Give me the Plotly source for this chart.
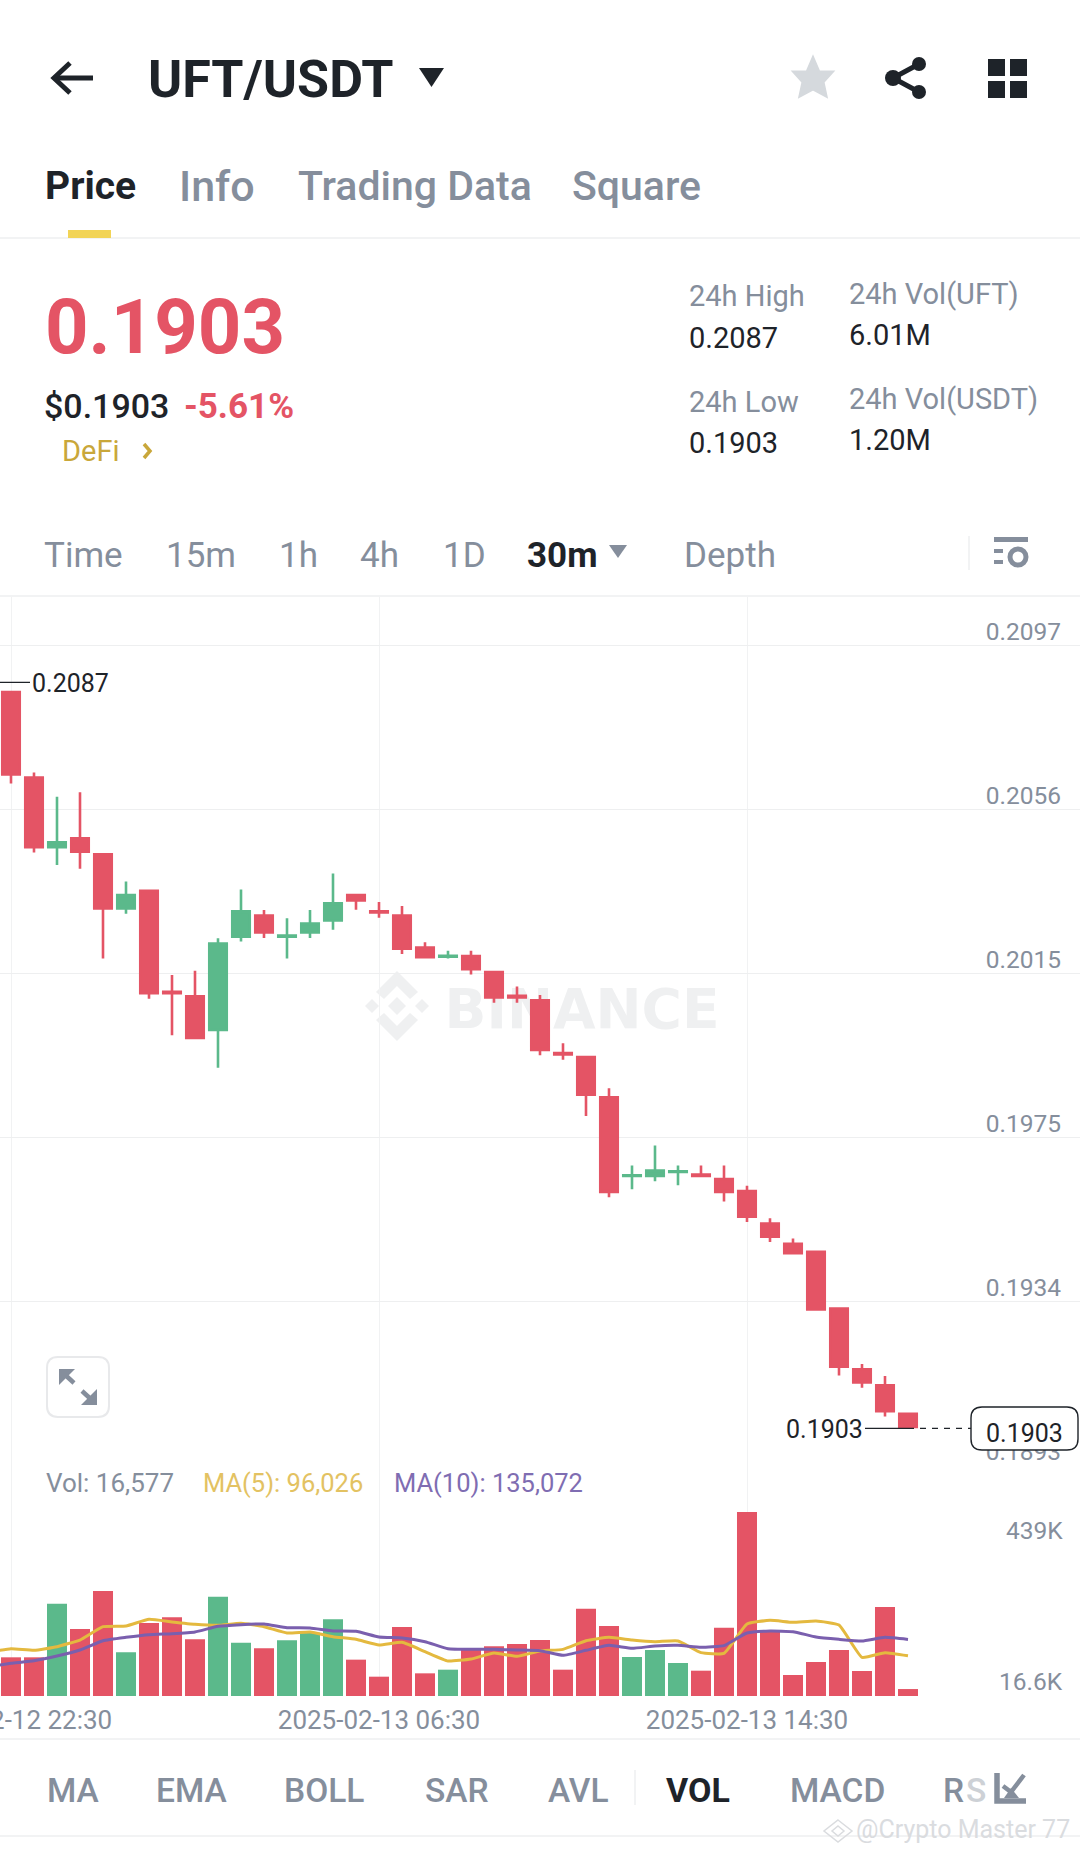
import pandas as pd
import plotly.graph_objects as go

# ---------- data ----------
opens  = [.20856,.20644,.20464,.20493,.20453,.20312,.20362,.20111,.20100,.20010,
          .20242,.20301,.20242,.20252,.20282,.20352,.20311,.20301,.20221,.20192,
          .20200,.20160,.20101,.20090,.19959,.19949,.19849,.19647,.19647,.19657,
          .19657,.19646,.19616,.19535,.19485,.19465,.19324,.19173,.19133,.19062]
highs  = [.20856,.20653,.20593,.20604,.20453,.20382,.20362,.20150,.20160,.20241,
          .20362,.20311,.20291,.20311,.20402,.20352,.20331,.20321,.20231,.20210,
          .20210,.20160,.20121,.20100,.19980,.19949,.19868,.19676,.19726,.19676,
          .19676,.19676,.19626,.19545,.19495,.19465,.19324,.19183,.19153,.19062]
lows   = [.20626,.20454,.20423,.20414,.20191,.20302,.20091,.20000,.19990,.19919,
          .20233,.20242,.20191,.20242,.20262,.20312,.20292,.20202,.20191,.20191,
          .20151,.20081,.20081,.19950,.19939,.19799,.19597,.19617,.19637,.19627,
          .19647,.19587,.19536,.19486,.19455,.19315,.19154,.19124,.19052,.19023]
closes = [.20645,.20464,.20483,.20453,.20312,.20352,.20101,.20101,.19990,.20231,
          .20311,.20252,.20251,.20281,.20331,.20332,.20302,.20212,.20191,.20201,
          .20161,.20091,.20091,.19960,.19949,.19849,.19607,.19655,.19667,.19665,
          .19647,.19607,.19546,.19496,.19455,.19315,.19173,.19134,.19062,.19023]
volumes = [92.3,92.3,220.3,159.9,250.5,104.2,174.2,187.7,135.2,237.0,
           127.2,113.7,132.8,151.1,182.9,86.7,46.1,164.6,54.1,62.8,
           112.1,118.5,124.1,133.6,62.8,208.4,167.0,93.0,109.8,78.7,
           60.4,163.0,439.0,157.5,50.1,81.1,109.8,59.6,212.3,16.577]
ma5 = [104.2,112.9,109.0,117.7,133.6,165.4,167.0,182.9,176.6,171.0,168.6,
       173.4,165.4,150.3,152.7,141.6,135.2,121.7,128.0,105.8,83.5,
       88.3,102.6,94.6,107.4,111.3,132.0,140.0,133.6,129.6,131.2,
       103.4,101.8,171.8,180.5,175.8,178.9,169.4,92.3,103.4,96.026]
ma10 = [70.0,77.9,84.3,95.4,109.8,132.0,140.0,146.3,148.7,152.7,166.2,
        170.2,171.8,163.0,162.2,155.1,154.3,140.8,138.4,129.6,112.9,
        111.3,111.3,109.8,108.2,97.0,109.0,120.9,113.7,119.3,120.9,
        116.1,120.1,150.3,155.1,153.5,140.8,135.2,131.2,140.0,135.072]
price_ticks = [0.2097,0.20562,0.20154,0.19746,0.19338,0.1893]
price_tick_labels = ["0.2097","0.2056","0.2015","0.1975","0.1934","0.1893"]
date_ticks = ["2025-02-12 22:30","2025-02-13 06:30","2025-02-13 14:30"]
high_mark = 0.20877
last_price = closes[-1]

times = pd.date_range("2025-02-12 22:30", periods=len(opens), freq="30min")
ma_times = pd.date_range("2025-02-12 22:00", periods=len(ma5), freq="30min")

W, H = 1080, 1851
RED, GREEN = "#E45465", "#5BB98B"
DARK, GREY, LINE = "#1E2329", "#858E9C", "#EEEFF0"
FONT = "Roboto"
TOP, MID, BOT = 597, 1465.7, 1696
PRICE_PER_PX = 2.486e-5
VOL_PER_PX = 2386
WICK = 2.6
def X(p): return p / W
def Y(p): return 1 - p / H

# the candle body outline adds half a wick width at each end: pull the drawn body in by as much
def inset(o, c):
    half = max(abs(c - o) - WICK * PRICE_PER_PX, 2e-6) / 2
    mid, sgn = (o + c) / 2, (1 if c > o else -1)
    return mid - sgn * half, mid + sgn * half
body = [inset(o, c) for o, c in zip(opens, closes)]

fig = go.Figure()
fig.add_trace(go.Candlestick(
    x=times, open=[b[0] for b in body], high=highs, low=lows, close=[b[1] for b in body], xaxis="x", yaxis="y",
    increasing=dict(line=dict(color=GREEN, width=WICK), fillcolor=GREEN),
    decreasing=dict(line=dict(color=RED, width=WICK), fillcolor=RED),
    whiskerwidth=0, showlegend=False, hoverinfo="skip"))
fig.add_trace(go.Bar(
    x=times, y=[v * 1000 for v in volumes], xaxis="x2", yaxis="y2",
    marker=dict(color=[GREEN if c > o else RED for o, c in zip(opens, closes)], line_width=0),
    showlegend=False, hoverinfo="skip"))
fig.add_trace(go.Scatter(x=ma_times, y=[v * 1000 for v in ma5], xaxis="x2", yaxis="y2", mode="lines",
    line=dict(color="#E4B93F", width=3, shape="spline", smoothing=0.4), showlegend=False, hoverinfo="skip"))
fig.add_trace(go.Scatter(x=ma_times, y=[v * 1000 for v in ma10], xaxis="x2", yaxis="y2", mode="lines",
    line=dict(color="#7A5FAE", width=3, shape="spline", smoothing=0.4), showlegend=False, hoverinfo="skip"))

ann = []
def txt(text, x, y, size, color=GREY, weight=400, anchor="left", family=FONT):
    ann.append(dict(text=text, x=X(x), y=Y(y), xref="paper", yref="paper", xanchor=anchor, yanchor="middle",
                    showarrow=False, borderpad=0, borderwidth=0,
                    font=dict(size=size, color=color, weight=weight, family=family)))

# header
txt("UFT/USDT", 148, 79, 52, DARK, 700)
txt("Price", 45, 186, 39, DARK, 700)
txt("Info", 179, 186, 43, GREY, 500)
txt("Trading Data", 298, 186, 41, GREY, 500)
txt("Square", 572, 186, 41, GREY, 500)
txt("0.1903", 45, 327, 76, RED, 700)
txt("$0.1903", 44, 406, 34, DARK, 500)
txt("-5.61%", 184, 406, 35, RED, 700)
txt("DeFi", 62, 451, 29, "#C9A73A")
txt("24h High", 689, 296, 29)
txt("0.2087", 689, 338, 29, DARK)
txt("24h Low", 689, 402, 29)
txt("0.1903", 689, 443, 29, DARK)
txt("24h Vol(UFT)", 849, 294, 29)
txt("6.01M", 849, 335, 29, DARK)
txt("24h Vol(USDT)", 849, 399, 29)
txt("1.20M", 849, 440, 29, DARK)
# interval row
for t, x in [("Time", 44), ("15m", 166), ("1h", 279), ("4h", 360), ("1D", 443), ("Depth", 684)]:
    txt(t, x, 555, 35)
txt("30m", 527, 555, 35, DARK, 700)
# chart labels
txt("0.2087", 32, 683, 25, DARK)
txt("0.1903", 786, 1429, 25, DARK)
txt("0.1903", 1063, 1433, 25, DARK, anchor="right")
txt("Vol: 16,577", 46, 1483, 26)
txt("MA(5): 96,026", 203, 1483, 25.5, "#E3C262")
txt("MA(10): 135,072", 394, 1483, 25.5, "#7F6DB2")
for val, lab, shift in [(439000, "439K", -18), (16600, "16.6K", 8)]:
    ann.append(dict(text=lab, x=X(1064), y=val, xref="paper", yref="y2", xanchor="right", yanchor="middle",
                    yshift=shift, showarrow=False, borderpad=0, font=dict(size=24.5, color=GREY, family=FONT)))
# bottom row
for t, x in [("MA", 47), ("EMA", 156), ("BOLL", 284), ("SAR", 425), ("AVL", 548), ("MACD", 790), ("R", 943)]:
    txt(t, x, 1790, 33.5, GREY, 500)
txt("S", 966, 1790, 33.5, "#CDD1D6", 500)
txt("VOL", 666, 1790, 34, DARK, 700)
txt("@Crypto Master 77", 856, 1829, 25, "#DADCDF")

# ---------- interface furniture ----------
sh = []
def line(x0, y0, x1, y1, color=LINE, w=1.5, dash=None, layer="above"):
    sh.append(dict(type="line", xref="paper", yref="paper", x0=X(x0), x1=X(x1), y0=Y(y0), y1=Y(y1),
                   layer=layer, line=dict(color=color, width=w, dash=dash or "solid")))
def rect(x0, y0, x1, y1, fill):
    sh.append(dict(type="rect", xref="paper", yref="paper", x0=X(x0), x1=X(x1), y0=Y(y0), y1=Y(y1),
                   fillcolor=fill, line_width=0))
def poly(points, fill=None, color=None, w=0, closed=True, layer="above"):
    d = "M " + " L ".join(f"{X(a):.5f},{Y(b):.5f}" for a, b in points) + (" Z" if closed else "")
    sh.append(dict(type="path", path=d, xref="paper", yref="paper", layer=layer,
                   fillcolor=fill or "rgba(0,0,0,0)",
                   line=dict(color=color or "rgba(0,0,0,0)", width=w)))
def circle(cx, cy, r, fill=None, color=None, w=0):
    sh.append(dict(type="circle", xref="paper", yref="paper", x0=X(cx - r), x1=X(cx + r), y0=Y(cy - r), y1=Y(cy + r),
                   fillcolor=fill or "rgba(0,0,0,0)", line=dict(color=color or "rgba(0,0,0,0)", width=w)))
def rrect(x0, y0, x1, y1, r, fill, color, w):
    p = lambda a, b: f"{X(a):.5f},{Y(b):.5f}"
    d = (f"M {p(x0+r,y0)} L {p(x1-r,y0)} Q {p(x1,y0)} {p(x1,y0+r)} L {p(x1,y1-r)} Q {p(x1,y1)} {p(x1-r,y1)} "
         f"L {p(x0+r,y1)} Q {p(x0,y1)} {p(x0,y1-r)} L {p(x0,y0+r)} Q {p(x0,y0)} {p(x0+r,y0)} Z")
    sh.append(dict(type="path", path=d, xref="paper", yref="paper", fillcolor=fill, line=dict(color=color, width=w)))

# back arrow, dropdown
poly([(54, 78), (93, 78)], color=DARK, w=5, closed=False)
poly([(70, 63), (54, 78), (70, 93)], color=DARK, w=5, closed=False)
poly([(419, 68), (444, 68), (431.5, 87)], fill=DARK)
# star
star = [(813, 58), (819, 72), (832, 72), (823, 82), (826, 96), (813, 89), (800, 96), (803, 82), (794, 72), (807, 72)]
poly(star, fill="#D5D9DD", color="#D5D9DD", w=3)
# share
poly([(919, 64), (893, 78), (919, 92)], color=DARK, w=5, closed=False)
circle(919, 64, 7, fill=DARK); circle(893, 78, 8, fill=DARK); circle(919, 92, 7, fill=DARK)
# grid
for a in (988, 1010):
    for b in (59, 81):
        rect(a, b, a + 17, b + 17, DARK)
# dividers
line(0, 238, W, 238)
rect(68, 230, 111, 238, "#F2D457")
line(0, 596, W, 596)
line(0, 1739, W, 1739)
line(0, 1836, W, 1836)
line(969, 536, 969, 570)
line(635, 1770, 635, 1805)
# chevron, 30m caret
poly([(144, 444), (150, 451), (144, 458)], color="#C9A73A", w=3.5, closed=False)
poly([(609, 545), (627, 545), (618, 558)], fill=GREY)
# chart settings icon
rect(994, 537, 1028, 542, GREY)
rect(994, 549, 1003, 553, GREY)
rect(994, 560, 1003, 564, GREY)
circle(1018, 557, 8, color=GREY, w=5)
# expand button
rrect(47, 1357, 109, 1417, 11, "rgba(0,0,0,0)", "#E8E9EB", 2)
poly([(62, 1372), (74, 1383)], color=GREY, w=4.5, closed=False)
poly([(59, 1369), (75, 1369), (59, 1385)], fill=GREY)
poly([(82, 1391), (94, 1402)], color=GREY, w=4.5, closed=False)
poly([(97, 1405), (81, 1405), (97, 1389)], fill=GREY)
# indicator icon
poly([(997, 1773), (997, 1801), (1026, 1801)], color=GREY, w=5.5, closed=False)
poly([(1003, 1786), (1011, 1792), (1024, 1775)], color=GREY, w=4.5, closed=False)
poly([(1004, 1798), (1019, 1798), (1011, 1788)], fill=GREY)
# small watermark logo
poly([(838, 1820), (852, 1831), (838, 1842), (824, 1831)], color="#DADCDF", w=1.5)
poly([(838, 1826), (844, 1831), (838, 1836), (832, 1831)], color="#DADCDF", w=1.5)

# chart watermark (under the candles)
WM = "#EFF0F1"
for cx, cy, r in [(397, 1006, 9), (372, 1006, 7), (422, 1006, 7)]:
    poly([(cx, cy - r), (cx + r, cy), (cx, cy + r), (cx - r, cy)], fill=WM, layer="below")
poly([(397, 971), (418, 992), (410, 999), (397, 986), (384, 999), (376, 992)], fill=WM, layer="below")
poly([(397, 1041), (418, 1020), (410, 1013), (397, 1026), (384, 1013), (376, 1020)], fill=WM, layer="below")
sh.append(dict(type="rect", xref="paper", yref="paper", x0=X(447), x1=X(717), y0=Y(1031), y1=Y(979), layer="below",
               line_width=0, fillcolor="rgba(0,0,0,0)",
               label=dict(text="BINANCE", textposition="middle center",
                          font=dict(size=55, color=WM, family="DejaVu Sans", weight=700))))

# high / last price markers
sh.append(dict(type="line", xref="paper", yref="y", x0=0, x1=X(30), y0=high_mark, y1=high_mark, line=dict(color=DARK, width=1.2)))
sh.append(dict(type="line", xref="paper", yref="y", x0=X(865), x1=X(908), y0=last_price, y1=last_price, line=dict(color=DARK, width=1.2)))
sh.append(dict(type="line", xref="paper", yref="y", x0=X(908), x1=X(971), y0=last_price, y1=last_price, line=dict(color=DARK, width=1.2, dash="6px,6px")))
rrect(971, 1407, 1078, 1450, 11, "#FFFFFF", DARK, 1.4)

fig.update_layout(
    width=W, height=H, autosize=False, margin=dict(l=0, r=0, t=0, b=0),
    paper_bgcolor="white", plot_bgcolor="white", boxgap=0.24, boxgroupgap=0, bargap=0.13, dragmode=False,
    font=dict(family=FONT, color=GREY),
    xaxis=dict(domain=[0, 1], anchor="y", type="date",
               range=["2025-02-12 22:15:39", "2025-02-13 21:44:21"],
               rangeslider=dict(visible=False), tickmode="array", tickvals=date_ticks,
               showticklabels=False, showgrid=True, gridcolor="#F1F2F3", gridwidth=1.2, zeroline=False, ticks=""),
    xaxis2=dict(domain=[0, 1], anchor="y2", type="date", matches="x",
                tickmode="array", tickvals=date_ticks, tickformat="%Y-%m-%d %H:%M",
                tickfont=dict(size=26, color=GREY, family=FONT), ticklabelstandoff=6, ticklabeloverflow="allow",
                showgrid=True, gridcolor="#F1F2F3", gridwidth=1.2, zeroline=False, ticks="", automargin=False),
    yaxis=dict(domain=[1 - MID / H, 1 - TOP / H], anchor="x", side="right",
               range=[price_ticks[-1], price_ticks[0] + (645 - TOP) * PRICE_PER_PX],
               tickmode="array", tickvals=price_ticks, ticktext=price_tick_labels,
               ticklabelposition="inside", ticklabelshift=-14, ticklabelstandoff=16, ticklabeloverflow="allow",
               tickfont=dict(size=24.5, color=GREY, family=FONT),
               showgrid=True, gridcolor=LINE, gridwidth=1.4, zeroline=False, ticks="", automargin=False),
    yaxis2=dict(domain=[1 - BOT / H, 1 - MID / H], anchor="x2", side="right",
                range=[0, (BOT - MID) * VOL_PER_PX],
                tickmode="array", tickvals=[0], showticklabels=False,
                showgrid=True, gridcolor=LINE, gridwidth=1.4, zeroline=False, ticks="", automargin=False),
    annotations=ann, shapes=sh,
)

fig.write_html("out.html", config={"displayModeBar": False},
               post_script="document.body.style.margin='0';")
